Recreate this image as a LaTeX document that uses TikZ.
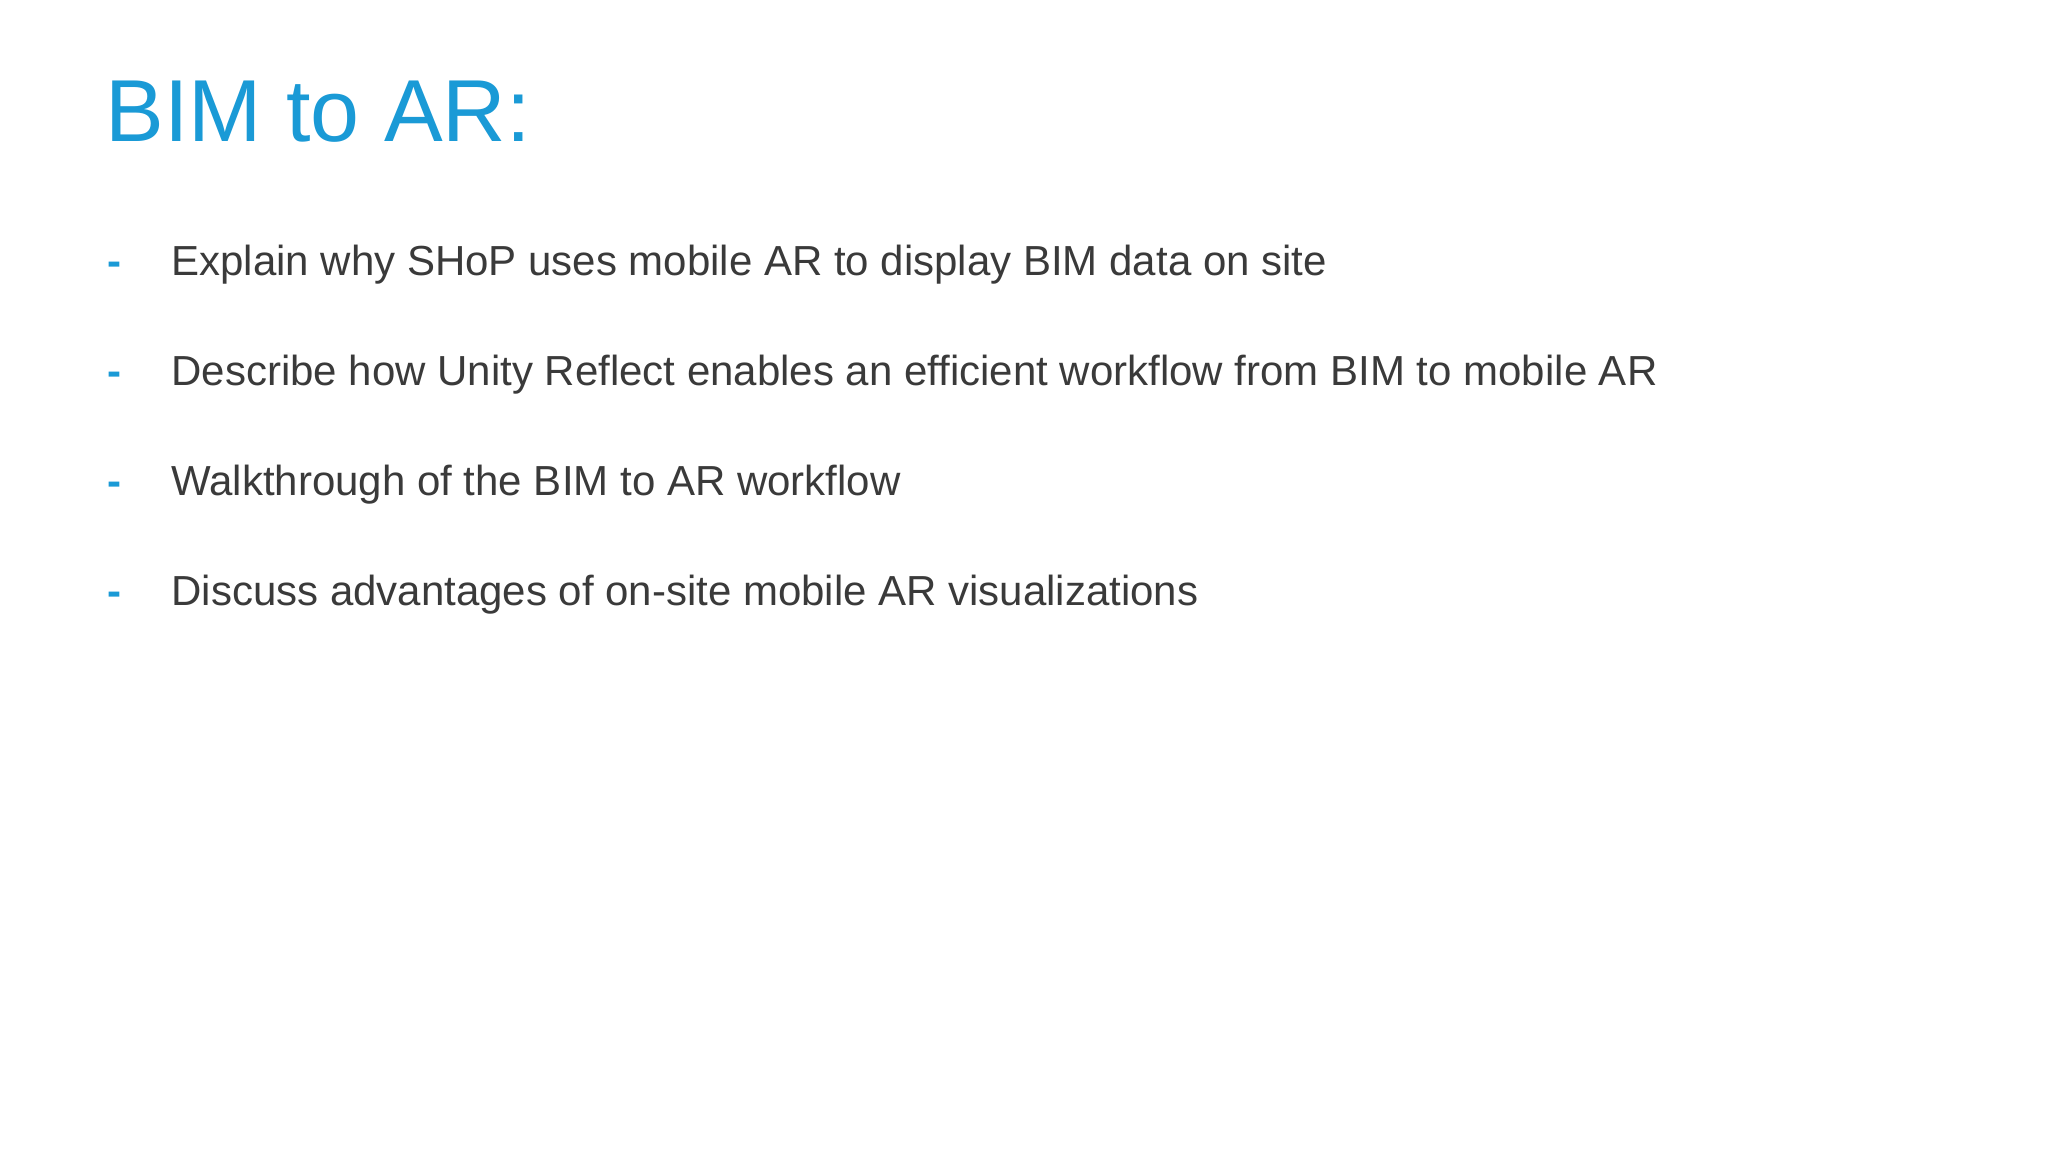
\documentclass[tikz,border=0pt]{standalone}
\usepackage{fontspec}
\setmainfont{Liberation Sans}
\definecolor{titleblue}{HTML}{1A9AD6}
\definecolor{textgray}{HTML}{3A3A3A}
\begin{document}
\begin{tikzpicture}[x=0.5pt,y=-0.5pt,
  itemtext/.style={anchor=base west,inner sep=0,text=textgray,font=\fontsize{21}{25}\selectfont},
  dashmark/.style={anchor=base west,inner sep=0,text=titleblue,font=\fontsize{21}{25}\selectfont\bfseries}]
\useasboundingbox (0,0) rectangle (2048,1152);
\fill[white] (0,0) rectangle (2048,1152);
\node[anchor=base west,inner sep=0,text=titleblue,font=\fontsize{44}{50}\selectfont] (title) at (105,141) {BIM to AR:};
\foreach \y/\t [count=\i] in {
 275/{Explain why SHoP uses mobile AR to display BIM data on site},
 385/{Describe how Unity Reflect enables an efficient workflow from BIM to mobile AR},
 495/{Walkthrough of the BIM to AR workflow},
 605/{Discuss advantages of on-site mobile AR visualizations}}{
 \node[dashmark] (d\i) at (107,\y) {-};
 \node[itemtext] (t\i) at (171,\y) {\t};
}
\end{tikzpicture}
\end{document}
